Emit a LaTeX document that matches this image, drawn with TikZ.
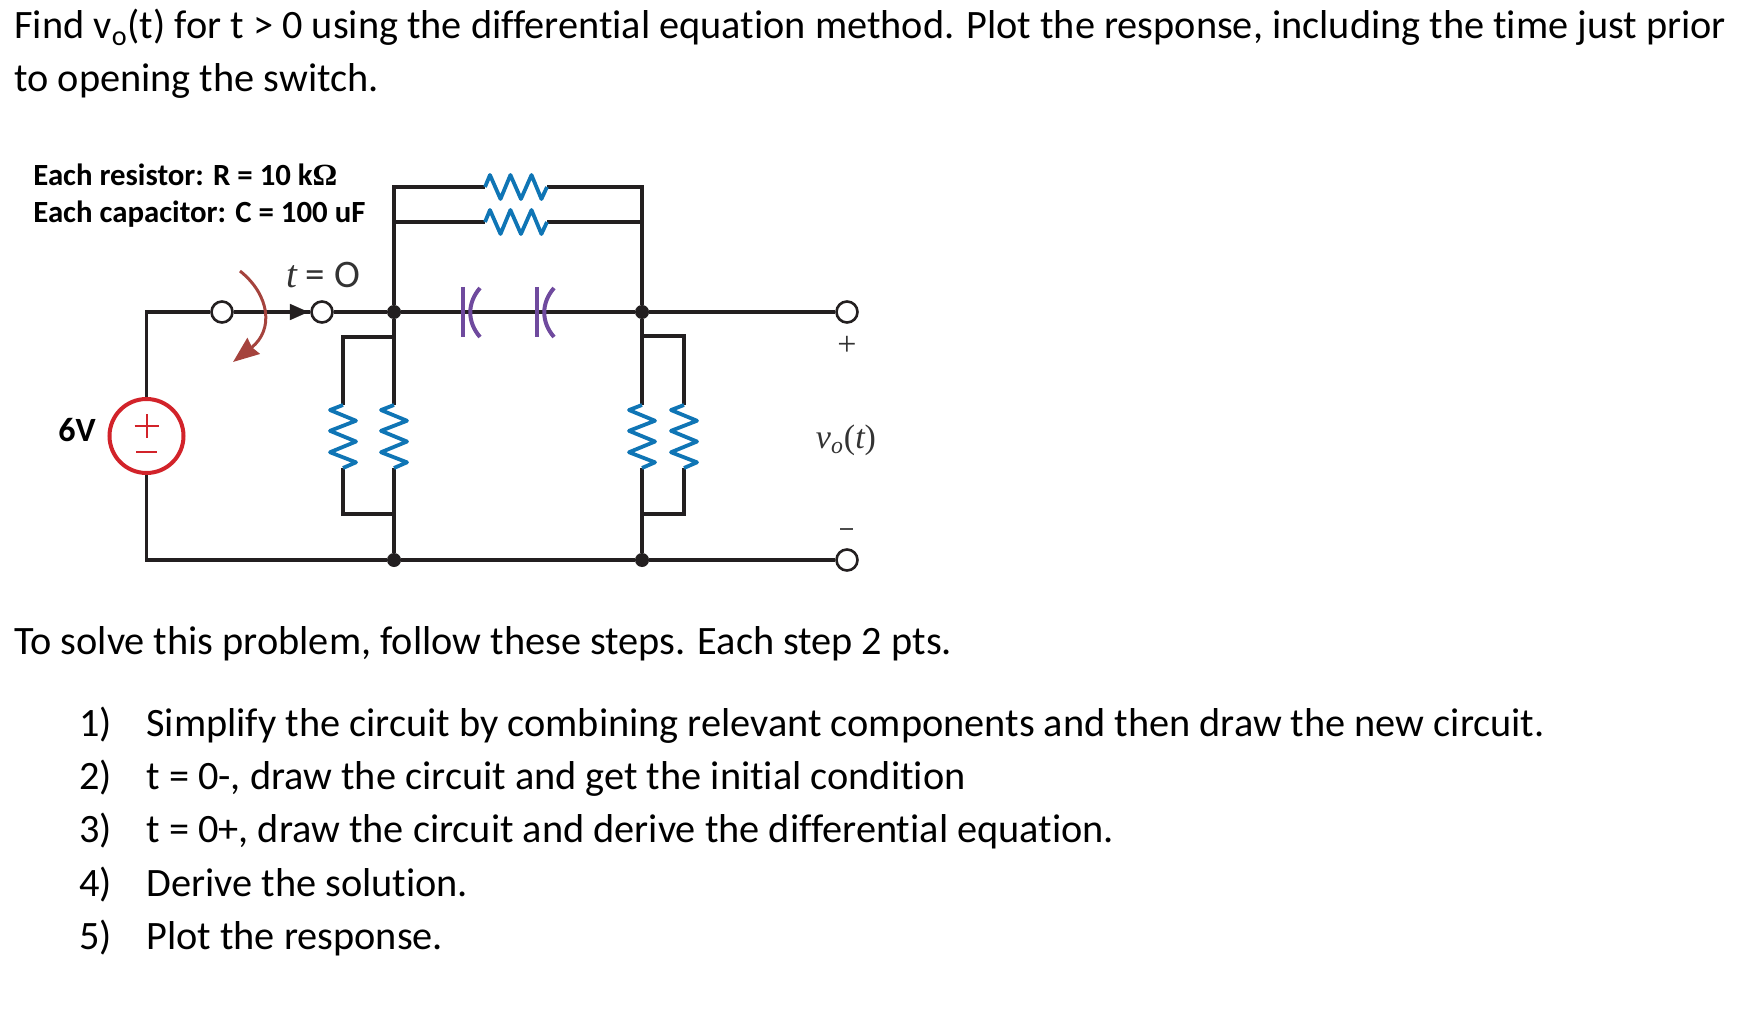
\documentclass[tikz,border=0pt]{standalone}
\usepackage{fontspec}
\setmainfont[Ligatures=NoCommon]{Carlito}
\newfontfamily\timesfam{Liberation Serif}
\usepackage{tikz}
\usetikzlibrary{calc}
\usetikzlibrary{arrows.meta}
\definecolor{wirek}{HTML}{231F20}
\definecolor{resblue}{HTML}{0F75B5}
\definecolor{capviolet}{HTML}{6F4A9E}
\definecolor{srcred}{HTML}{D2232A}
\definecolor{swbrown}{HTML}{A5433D}
\tikzset{
  wire/.style={wirek, line width=1.6pt},
  dotnode/.style={circle, fill=wirek, inner sep=0pt, minimum size=7pt},
  term/.style={circle, draw=wirek, line width=1.3pt, fill=white, inner sep=0pt, minimum size=10.5pt},
  restxt/.style={anchor=base west, inner sep=0pt, font=\fontsize{20.15}{20}\selectfont, text=black},
  smalltxt/.style={anchor=base west, inner sep=0pt, font=\bfseries\fontsize{15.4}{15}\selectfont, text=black},
  resline/.style={resblue, line width=1.9pt, line join=round},
  capline/.style={capviolet, line width=2pt}
}
\begin{document}
\begin{tikzpicture}[x=.5pt,y=-.5pt]
\useasboundingbox (0,0) rectangle (1748,1026);

\node[restxt] (title1) at (14,39) {Find v\textsubscript{o}(t) for t > 0 using the differential equation method. Plot the response, including the time just prior};
\node[restxt] (title2) at (14,92) {to opening the switch.};
\node[smalltxt] (each1) at (33,186) {Each resistor: R = 10 k{\timesfam Ω}};
\node[smalltxt] (each2) at (33,223) {Each capacitor: C = 100 uF};
\node[restxt] (solve) at (14,654) {To solve this problem, follow these steps. Each step 2 pts.};

\node[restxt] (n1) at (79,736) {1)};
\node[restxt] (s1) at (146,736) {Simplify the circuit by combining relevant components and then draw the new circuit.};
\node[restxt] (n2) at (79,789) {2)};
\node[restxt] (s2) at (146,789) {t = 0-, draw the circuit and get the initial condition};
\node[restxt] (n3) at (79,842) {3)};
\node[restxt] (s3) at (146,842) {t = 0+, draw the circuit and derive the differential equation.};
\node[restxt] (n4) at (79,896) {4)};
\node[restxt] (s4) at (146,896) {Derive the solution.};
\node[restxt] (n5) at (79,949) {5)};
\node[restxt] (s5) at (146,949) {Plot the response.};

% circuit points
\node[dotnode] (A) at (394,312) {};
\node[dotnode] (B) at (642,312) {};
\node[dotnode] (C) at (394,560) {};
\node[dotnode] (D) at (642,560) {};
\node[circle, draw=srcred, line width=2pt, fill=white, inner sep=0pt, minimum size=37pt] (src) at (146.5,436) {};
\node[term] (swa) at (222,312) {};
\node[term] (swb) at (322,312) {};
\node[term] (outp) at (847,312) {};
\node[term] (outm) at (847,560) {};

\coordinate (R1a) at (485,187);
\coordinate (R1b) at (547,187);
\coordinate (R2a) at (485,222);
\coordinate (R2b) at (547,222);
\coordinate (R3a) at (343,405);
\coordinate (R3b) at (343,468);
\coordinate (R4a) at (394,405);
\coordinate (R4b) at (394,468);
\coordinate (R5a) at (642,405);
\coordinate (R5b) at (642,468);
\coordinate (R6a) at (684,405);
\coordinate (R6b) at (684,468);

\draw[wire] (src.north) |- (swa.west);
\draw[wire] (src.south) |- (C.west);
\draw[wire] (swa.east) -- (swb.west);
\draw[wire] (swb.east) -- (A.west);
\draw[wire] (A.east) -- (B.west);
\draw[wire] (B.east) -- (outp.west);
\draw[wire] (C.east) -- (D.west);
\draw[wire] (D.east) -- (outm.west);
\draw[wire] (A.north) |- (R1a);
\draw[wire] (R1b) -| (B.north);
\draw[wire] (A.north) |- (R2a);
\draw[wire] (R2b) -- (B.north |- R2b);
\draw[wire] (A.south) -- (R4a);
\draw[wire] (R4b) -- (C.north);
\draw[wire] (B.south) -- (R5a);
\draw[wire] (R5b) -- (D.north);
\draw[wire] (394,337) -| (R3a);
\draw[wire] (R3b) -- (343,514) -- (394,514);
\draw[wire] (642,336) -| (R6a);
\draw[wire] (R6b) -- (684,514) -- (642,514);

% resistors
\foreach \a/\b in {R1a/R1b, R2a/R2b}
  \draw[resline] (\a) -- ($(\a)!.08!(\b)+(0,-12)$) -- ($(\a)!.25!(\b)+(0,12)$) -- ($(\a)!.41!(\b)+(0,-12)$) -- ($(\a)!.58!(\b)+(0,12)$) -- ($(\a)!.75!(\b)+(0,-12)$) -- ($(\a)!.91!(\b)+(0,12)$) -- (\b);
\foreach \a/\b in {R3a/R3b, R4a/R4b, R5a/R5b, R6a/R6b}
  \draw[resline] (\a) -- ($(\a)!.08!(\b)+(-13,0)$) -- ($(\a)!.25!(\b)+(13,0)$) -- ($(\a)!.41!(\b)+(-13,0)$) -- ($(\a)!.58!(\b)+(13,0)$) -- ($(\a)!.75!(\b)+(-13,0)$) -- ($(\a)!.91!(\b)+(13,0)$) -- (\b);

% capacitors
\foreach \x in {463,537} {
  \draw[capline] (\x,287) -- (\x,337);
  \draw[capline] ({\x+17},288) .. controls ({\x+4},303) and ({\x+4},322) .. ({\x+17},337);
}

% switch arrows
\draw[wirek, line width=.1pt, fill=wirek] (308,312) -- (290,304) -- (290,320) -- cycle;
\draw[swbrown, line width=1.5pt, -{Stealth[length=13pt,width=10pt,inset=1pt]}] (240,271) .. controls (270,295) and (274,330) .. (233,362);

% source signs
\draw[srcred, line width=1pt] (146.5,414) -- (146.5,438) (134.5,426) -- (158.5,426);
\draw[srcred, line width=1pt] (136,452) -- (157,452);

% labels
\node[font=\fontsize{17}{17}\selectfont\bfseries, text=black, inner sep=0pt] (vs) at (77,430) {6V};
\node[font=\fontsize{19.5}{19}\selectfont, inner sep=0pt, text=black!80] (tz) at (323,275) {{\timesfam\itshape t} = O};
\node[inner sep=0pt, text=black!80, font=\fontsize{17}{17}\selectfont\timesfam] (plus) at (847,346) {+};
\draw[black!70, line width=.8pt] (840,529) -- (853,529);
\node[inner sep=0pt, text=black!80, font=\fontsize{17}{17}\selectfont\timesfam] (vo) at (846,440) {\itshape v\textsubscript{o}\upshape(\itshape t\upshape)};
\end{tikzpicture}
\end{document}
